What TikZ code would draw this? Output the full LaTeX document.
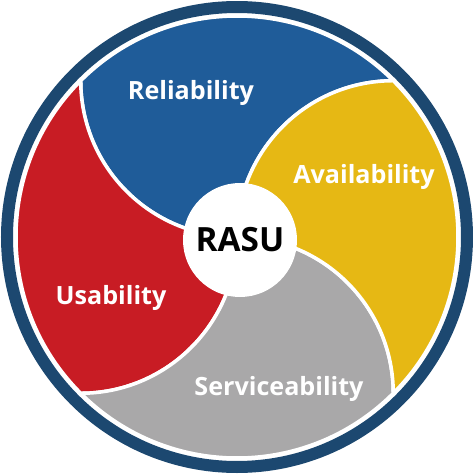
\documentclass[tikz,border=0pt]{standalone}
\usepackage{fontspec}
\setmainfont{Open Sans}
\definecolor{rasublue}{RGB}{31,92,153}
\definecolor{rasured}{RGB}{200,28,36}
\definecolor{rasuyellow}{RGB}{230,184,20}
\definecolor{rasugray}{RGB}{169,168,169}
\definecolor{rasunavy}{RGB}{28,72,112}
\tikzset{
  label text/.style = {text = white, font = \fontsize{14.3}{16}\selectfont\bfseries, anchor = base},
  hub/.style = {circle, fill = white, minimum size = 114*0.02cm, inner sep = 0pt, font = \fontsize{19}{22}\selectfont\bfseries}
}
\begin{document}
\begin{tikzpicture}[x = 0.02cm, y = 0.02cm]
\useasboundingbox (-237,-237) rectangle (237,237);
\pgfmathsetmacro\R{221};
\pgfmathsetmacro\r{\R/sqrt(2)};
% outer ring
\draw[rasunavy, line width = 12*0.02cm] (0,0) circle (230);
% the four blades
\foreach \c/\a in {rasublue/0, rasured/90, rasugray/180, rasuyellow/270}
  \filldraw[fill = \c, draw = white, line width = 3.5*0.02cm, rotate = \a]
    (45:\R) arc[start angle = 45, end angle = 135, radius = \R]
    arc[start angle = 180, end angle = 270, radius = \r]
    arc[start angle = 180, end angle = 90, radius = \r] -- cycle;
% hub and labels
\node[hub] (rasu) at (3,-3) {RASU};
\node[label text] (rel) at (-46,138) {Reliability};
\node[label text] (avail) at (127,54) {Availability};
\node[label text] (usab) at (-126,-67) {Usability};
\node[label text] (serv) at (42,-158) {Serviceability};
\end{tikzpicture}
\end{document}
